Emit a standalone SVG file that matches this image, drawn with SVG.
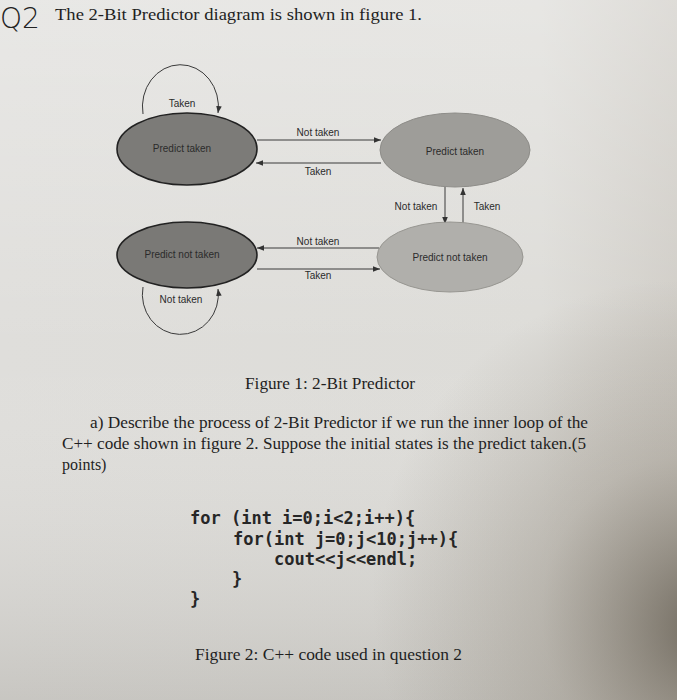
<svg xmlns="http://www.w3.org/2000/svg" width="677" height="700" viewBox="0 0 677 700">
<defs>
<linearGradient id="paper" x1="0" y1="0" x2="1" y2="0">
<stop offset="0" stop-color="#dfdedb"/>
<stop offset="0.8" stop-color="#dddcd8"/>
<stop offset="1" stop-color="#d0cdc7"/>
</linearGradient>
<linearGradient id="shade" x1="0" y1="0" x2="0" y2="1">
<stop offset="0" stop-color="#ffffff" stop-opacity="0.3"/>
<stop offset="0.5" stop-color="#ffffff" stop-opacity="0"/>
<stop offset="1" stop-color="#6b665c" stop-opacity="0.2"/>
</linearGradient>
<radialGradient id="corner" cx="1" cy="0.85" r="0.45" fx="1.05" fy="0.9">
<stop offset="0" stop-color="#5e574b" stop-opacity="0.85"/>
<stop offset="0.5" stop-color="#8a8275" stop-opacity="0.35"/>
<stop offset="1" stop-color="#8a8275" stop-opacity="0"/>
</radialGradient>
<marker id="ah" viewBox="0 0 10 10" refX="10" refY="5" markerWidth="7" markerHeight="7" markerUnits="userSpaceOnUse" orient="auto">
<path d="M0,1 L10,5 L0,9 z" fill="#333"/>
</marker>
<style>
.lbl{font-family:"Liberation Sans",Arial,sans-serif;font-size:10px;fill:#2b2b2b;text-anchor:middle}
.serif{font-family:"Liberation Serif","Times New Roman",serif;font-size:16px;fill:#1f1f1f}
.code{font-family:"DejaVu Sans Mono",monospace;font-size:17px;font-weight:bold;fill:#262626}
.edge{fill:none;stroke:#3a3a3a;stroke-width:1}
</style>
</defs>
<rect width="677" height="700" fill="url(#paper)"/>
<rect width="677" height="700" fill="url(#shade)"/>
<rect width="677" height="700" fill="url(#corner)"/>

<text x="0" y="28" font-family="'DejaVu Sans',sans-serif" font-size="28" font-weight="200" fill="#222">Q2</text>
<text class="serif" x="55" y="20" textLength="367" lengthAdjust="spacingAndGlyphs">The 2-Bit Predictor diagram is shown in figure 1.</text>

<g id="connectors">
<path class="edge" d="M143,114 A38,42 0 1 1 218,113" marker-end="url(#ah)"/>
<line class="edge" x1="257" y1="140" x2="381" y2="140" marker-end="url(#ah)"/>
<line class="edge" x1="381" y1="163" x2="256" y2="163" marker-end="url(#ah)"/>
<line class="edge" x1="445" y1="187" x2="445" y2="224" marker-end="url(#ah)"/>
<line class="edge" x1="463" y1="224" x2="463" y2="188" marker-end="url(#ah)"/>
<line class="edge" x1="379" y1="248" x2="257" y2="248" marker-end="url(#ah)"/>
<line class="edge" x1="257" y1="269" x2="380" y2="269" marker-end="url(#ah)"/>
<path class="edge" d="M143,287 A38,40 0 1 0 218,289" marker-end="url(#ah)"/>
<text class="lbl" x="182" y="107">Taken</text>
<text class="lbl" x="318" y="136">Not taken</text>
<text class="lbl" x="318" y="175">Taken</text>
<text class="lbl" x="416" y="210">Not taken</text>
<text class="lbl" x="487" y="210">Taken</text>
<text class="lbl" x="318" y="245">Not taken</text>
<text class="lbl" x="318" y="279">Taken</text>
<text class="lbl" x="181" y="303">Not taken</text>
</g>

<g id="node-strong-taken">
<ellipse cx="187" cy="149" rx="70" ry="36" fill="#7c7b78" stroke="#222" stroke-width="1.6"/>
<text class="lbl" x="182" y="152">Predict taken</text>
</g>
<g id="node-weak-taken">
<ellipse cx="455" cy="150" rx="75" ry="37" fill="#9e9d99" stroke="#8e8d89" stroke-width="1"/>
<text class="lbl" x="455" y="155">Predict taken</text>
</g>
<g id="node-strong-not-taken">
<ellipse cx="187" cy="255" rx="70" ry="33" fill="#7a7976" stroke="#222" stroke-width="1.6"/>
<text class="lbl" x="182" y="258">Predict not taken</text>
</g>
<g id="node-weak-not-taken">
<ellipse cx="450" cy="257" rx="73" ry="35" fill="#b0afab" stroke="#979691" stroke-width="1"/>
<text class="lbl" x="450" y="261">Predict not taken</text>
</g>

<text class="serif" x="245" y="389" textLength="170" lengthAdjust="spacingAndGlyphs">Figure 1: 2-Bit Predictor</text>
<text class="serif" x="90" y="428" textLength="498" lengthAdjust="spacingAndGlyphs">a) Describe the process of 2-Bit Predictor if we run the inner loop of the</text>
<text class="serif" x="62" y="449" textLength="524" lengthAdjust="spacingAndGlyphs">C++ code shown in figure 2. Suppose the initial states is the predict taken.(5</text>
<text class="serif" x="62" y="470">points)</text>

<text class="code" x="190" y="524">for (int i=0;i&lt;2;i++){</text>
<text class="code" x="233" y="545">for(int j=0;j&lt;10;j++){</text>
<text class="code" x="274" y="565">cout&lt;&lt;j&lt;&lt;endl;</text>
<text class="code" x="232" y="585">}</text>
<text class="code" x="190" y="605">}</text>

<text class="serif" x="195" y="660" textLength="267" lengthAdjust="spacingAndGlyphs">Figure 2: C++ code used in question 2</text>
</svg>
